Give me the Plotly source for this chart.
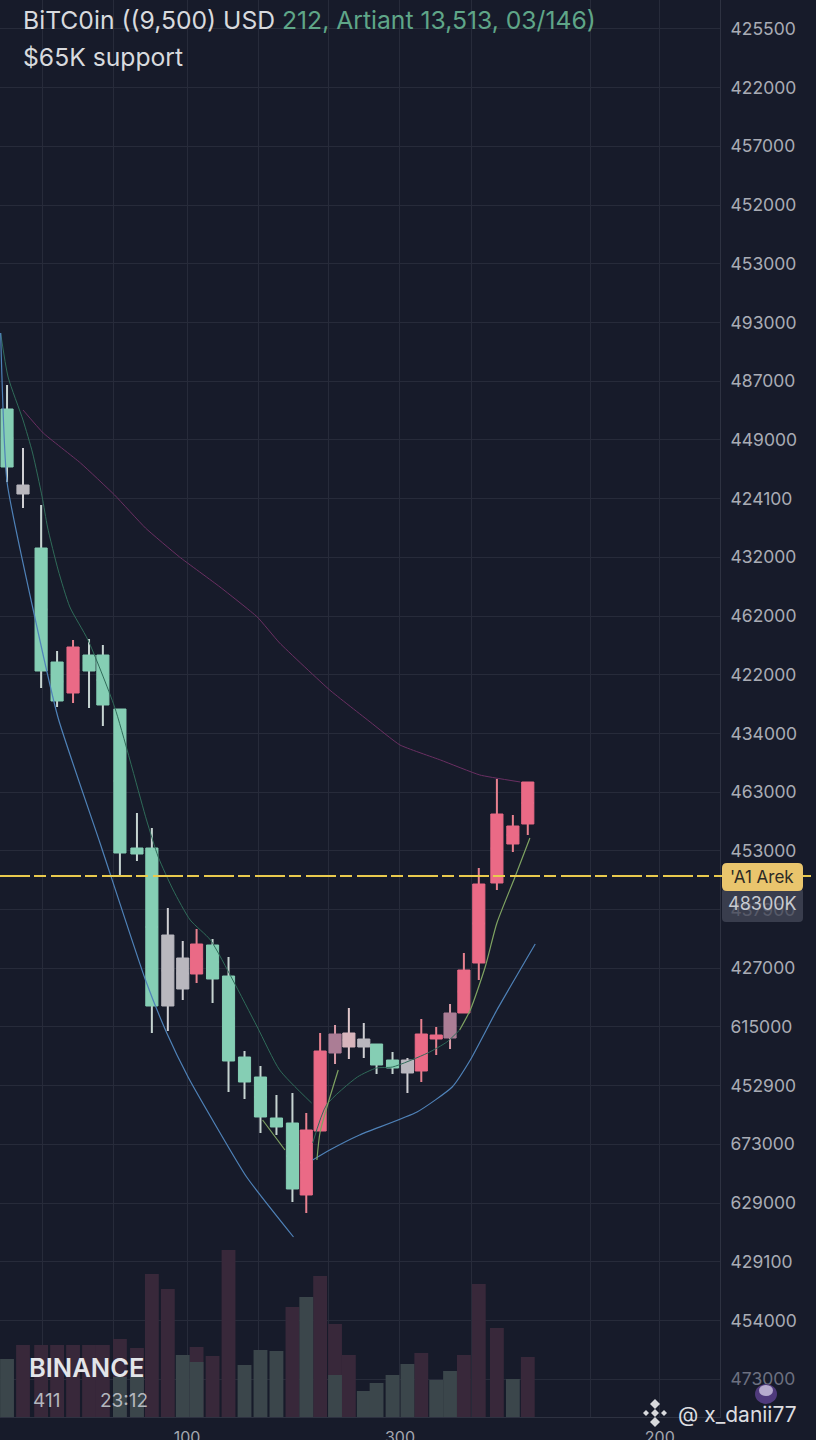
import plotly.graph_objects as go

# Candle data (support line sits at 65000)
bar_x = [-69, -54, -37, -22, -7, 8, 21, 37, 53, 67, 82, 96, 109, 124, 139, 154, 169, 184,
         199, 212, 225, 239, 252, 266, 278, 293, 307, 320, 334, 347, 360, 374, 391, 406, 420]
open_p = [72939, 71647, 70576, 68638, 68111, 68757, 68757, 67839, 65476, 65476, 63997, 63606,
          63334, 63827, 63300, 61923, 61583, 60886, 60801, 59577, 60665, 61991, 62093, 62229,
          62144, 61872, 61872, 61685, 62229, 62246, 62671, 63521, 64881, 65544, 65884]
close_p = [71953, 71494, 68485, 67975, 68893, 68485, 67907, 65391, 65374, 62790, 62790, 63079,
           63844, 63249, 61855, 61498, 60903, 60733, 59679, 60682, 62025, 62314, 62331, 62093,
           61787, 61736, 61651, 62314, 62297, 62671, 63402, 64864, 66054, 65850, 66598]
high_p = [73347, 72276, 71307, 68825, 69012, 69029, 68927, 67839, 66071, 65816, 64456, 63895,
          64099, 63929, 63623, 62025, 61770, 61277, 61311, 60971, 62331, 62467, 62756, 62501,
          62144, 62008, 61906, 62569, 62433, 62824, 63691, 65136, 66649, 66037, 66598]
low_p = [71698, 71256, 68196, 67873, 67941, 67856, 67550, 65017, 65255, 62331, 62365, 62892,
         63181, 62841, 61328, 61209, 60631, 60597, 59458, 59271, 60665, 61804, 61889, 61906,
         61634, 61634, 61311, 61498, 61957, 62059, 62671, 63232, 64762, 65408, 65697]
kinds = ["d", "f", "d", "d", "u", "d", "d", "d", "d", "d", "f", "f", "u", "d", "d", "d", "d", "d",
         "d", "u", "u", "m", "p", "f", "d", "d", "f", "u", "u", "m", "u", "u", "u", "u", "u"]

red_vol = [None, 72, 72, 72, 72, 72, 72, 78, 69, 143, 128, None, 70, 61, 167, None, None, None,
           110, None, 141, 93, 62, None, None, None, None, 64, None, None, 62, 133, 89, None, 60]
gray_vol = [58, None, None, None, None, None, None, 40, 40, None, None, 62, 55, None, None, 52, 67, 66,
            None, 120, None, 42, None, 26, 34, 42, 53, None, 37, 46, None, None, None, 38, None]

# Moving averages
blue_x = [-75, -69, -45, -21, 18, 61, 81, 101, 124, 156, 200, None,
          218, 234, 262, 316, 349, 366, 391, 427]
blue_y = [74231, 71698, 69573, 67686, 65578, 63232, 62331, 61583, 60852, 59883, 58863, None,
          60172, 60342, 60597, 60988, 61413, 61872, 62722, 63844]
dark_x = [-75, -68, -54, -45, -36, -31, -21, -10, 7, 32, 62, 73, 87, 103, 122, 143, 166, 187, 217, None,
          218, 231, 260, 278, 293, 326, 344, 356]
dark_y = [74231, 73483, 72752, 72191, 71443, 70933, 70202, 69573, 69012, 67873, 65952, 65323, 64762,
          64252, 63912, 63232, 62433, 61702, 61141, None,
          60461, 61107, 61583, 61736, 61753, 61991, 62178, 62382]
bright_x = [171, 192, None, 222, 225, 242, None, 356, 366, 380, 391, 408, 422]
bright_y = [60852, 60342, None, 60172, 60648, 61702, None, 62382, 62722, 63453, 64201, 64983, 65646]
purple_x = [-54, -35, 0, 32, 61, 93, 131, 166, 187, 234, 272, 300, 338, 375, 413]
purple_y = [72922, 72531, 72021, 71477, 70916, 70423, 69913, 69403, 68961, 68162, 67618, 67227,
            66972, 66717, 66598]

support_level = 65000

y_tick_vals = [79400 - 998 * i for i in range(24)]
y_tick_text = ["425500", "422000", "457000", "452000", "453000", "493000", "487000", "449000",
               "424100", "432000", "462000", "422000", "434000", "463000", "453000", "437900",
               "427000", "615000", "452900", "673000", "629000", "429100", "454000",
               '<span style="color:#6c7080">473000</span>']
x_tick_vals = [-36, 31, 100, 167, 233, 300, 367, 479, 544]
x_tick_text = ["", "", "100", "", "", "300", "", "", "200"]

BG = "#171b2a"
GRID = "#272b3a"
W, H = 816, 1440
PLOT_H = 1417  # paper coordinates stop at the bottom axis

candle_colors = {
    "u": ("#ea6a86", "#e8818f"),
    "d": ("#85ceb4", "#c6d4d1"),
    "f": ("#b9b7be", "#cfcfd3"),
    "m": ("#ab7d95", "#d99aa6"),
    "p": ("#d8b5bc", "#dfc6ca"),
}


def px_x(x):
    return x / W


def px_y(y):
    return 1 - y / PLOT_H


def rounded_box(x0, y0, x1, y1, r):
    # path in paper coordinates, for the price tags
    return (f"M {px_x(x0 + r)} {px_y(y0)} L {px_x(x1 - r)} {px_y(y0)} "
            f"Q {px_x(x1)} {px_y(y0)} {px_x(x1)} {px_y(y0 + r)} L {px_x(x1)} {px_y(y1 - r)} "
            f"Q {px_x(x1)} {px_y(y1)} {px_x(x1 - r)} {px_y(y1)} L {px_x(x0 + r)} {px_y(y1)} "
            f"Q {px_x(x0)} {px_y(y1)} {px_x(x0)} {px_y(y1 - r)} L {px_x(x0)} {px_y(y0 + r)} "
            f"Q {px_x(x0)} {px_y(y0)} {px_x(x0 + r)} {px_y(y0)} Z")


def diamond(cx, cy, r):
    return (f"M {px_x(cx)} {px_y(cy - r)} L {px_x(cx + r)} {px_y(cy)} "
            f"L {px_x(cx)} {px_y(cy + r)} L {px_x(cx - r)} {px_y(cy)} Z")


fig = go.Figure()

# Volume
fig.add_trace(go.Bar(x=bar_x, y=red_vol, width=13, marker_color="#38283a", marker_line_width=0, yaxis="y2"))
fig.add_trace(go.Bar(x=bar_x, y=gray_vol, width=13, marker_color="#3b464b", marker_line_width=0, yaxis="y2"))

# Moving averages under the candles
fig.add_trace(go.Scatter(x=purple_x, y=purple_y, mode="lines",
                         line=dict(color="#6a2f62", width=1, shape="spline", smoothing=0.4)))
fig.add_trace(go.Scatter(x=dark_x, y=dark_y, mode="lines",
                         line=dict(color="#2f6b59", width=1, shape="spline", smoothing=0.6)))
fig.add_trace(go.Scatter(x=blue_x, y=blue_y, mode="lines",
                         line=dict(color="#4f82b8", width=1.2, shape="spline", smoothing=0.5)))
fig.add_trace(go.Scatter(x=bright_x, y=bright_y, mode="lines",
                         line=dict(color="#7fa362", width=1.2, shape="spline", smoothing=0.6)))

# Candles: one trace for the wicks, one on top for the bodies
for kind, (body_color, wick_color) in candle_colors.items():
    idx = [i for i, k in enumerate(kinds) if k == kind]
    xs = [bar_x[i] for i in idx]
    mids = [(open_p[i] + close_p[i]) / 2 for i in idx]
    wick_style = dict(line=dict(color=wick_color, width=2), fillcolor=wick_color)
    fig.add_trace(go.Candlestick(
        x=xs, open=mids, close=mids,
        high=[high_p[i] for i in idx], low=[low_p[i] for i in idx],
        increasing=wick_style, decreasing=wick_style,
    ))
    body_style = dict(line=dict(color=body_color, width=1), fillcolor=body_color)
    fig.add_trace(go.Candlestick(
        x=xs,
        open=[open_p[i] for i in idx], close=[close_p[i] for i in idx],
        high=[max(open_p[i], close_p[i]) for i in idx], low=[min(open_p[i], close_p[i]) for i in idx],
        increasing=body_style, decreasing=body_style,
    ))

shapes = [
    dict(type="line", xref="paper", yref="y", x0=0, x1=1, y0=support_level, y1=support_level,
         line=dict(color="#e9ca4e", width=2, dash="30px,4px,12px,5px")),
    dict(type="path", xref="paper", yref="paper", path=rounded_box(722, 888, 803, 922, 4),
         fillcolor="rgba(66,70,86,0.8)", line=dict(width=0)),
    dict(type="path", xref="paper", yref="paper", path=rounded_box(722, 863, 803, 891, 5),
         fillcolor="#e9c56d", line=dict(width=0)),
    # avatar ball next to the watermark
    dict(type="circle", xref="paper", yref="paper", x0=px_x(755), x1=px_x(777), y0=px_y(1404), y1=px_y(1384),
         fillcolor="#4f3a7c", line=dict(width=0)),
    dict(type="circle", xref="paper", yref="paper", x0=px_x(759), x1=px_x(773), y0=px_y(1396), y1=px_y(1385),
         fillcolor="#cfc8e2", opacity=0.8, line=dict(width=0)),
    dict(type="path", xref="paper", yref="paper", path=diamond(655, 1404, 5), fillcolor="#d8d9dc", line=dict(width=0)),
    dict(type="path", xref="paper", yref="paper", path=diamond(655, 1422, 5), fillcolor="#d8d9dc", line=dict(width=0)),
    dict(type="path", xref="paper", yref="paper", path=diamond(646, 1413, 3), fillcolor="#d8d9dc", line=dict(width=0)),
    dict(type="path", xref="paper", yref="paper", path=diamond(664, 1413, 3), fillcolor="#d8d9dc", line=dict(width=0)),
    dict(type="path", xref="paper", yref="paper", path=diamond(655, 1413, 4), fillcolor="#d8d9dc", line=dict(width=0)),
]


def label(x, y, text, size, color, anchor="left", weight=None):
    return dict(xref="paper", yref="paper", x=px_x(x), y=px_y(y), text=text, showarrow=False,
                xanchor=anchor, yanchor="middle", align=anchor, borderpad=0,
                font=dict(family="Inter", size=size, color=color, weight=weight))


annotations = [
    label(22, 20, 'BiTC0in ((9,500) USD <span style="color:#5fa688">212, Artiant 13,513, 03/146)</span>', 24.7, "#d8dade"),
    label(22, 57, "$65K support", 24.7, "#d8dade"),
    label(762, 877, "'A1 Arek", 17, "#2c2a25", "center"),
    label(762, 903, "48300K", 18, "#c8cad0", "center"),
    label(28, 1367, "BINANCE", 25.5, "#e3e5e9", weight=600),
    label(32, 1400, "411", 19, "#b4b7be"),
    label(99, 1400, "23:12", 19, "#b4b7be"),
    label(677, 1414, "@ x_danii77", 21, "#dcdde0"),
]

fig.update_layout(
    width=W, height=H,
    margin=dict(l=0, r=0, t=0, b=H - PLOT_H),
    paper_bgcolor=BG, plot_bgcolor=BG,
    showlegend=False, barmode="overlay", boxgap=0.05, boxgroupgap=0,
    shapes=shapes, annotations=annotations,
    font=dict(family="Inter"),
    xaxis=dict(
        domain=[0, 720 / W], range=[-75.6, 600.5], automargin=False,
        tickmode="array", tickvals=x_tick_vals, ticktext=x_tick_text,
        showgrid=True, gridcolor=GRID, gridwidth=1, zeroline=False,
        showline=True, linecolor="#2e3241", linewidth=1,
        tickfont=dict(size=16, color="#a4a7b0"), ticklabelstandoff=6, ticks="",
        rangeslider=dict(visible=False),
    ),
    yaxis=dict(
        side="right", range=[55803, 79892], automargin=False,
        tickmode="array", tickvals=y_tick_vals, ticktext=y_tick_text,
        showgrid=True, gridcolor=GRID, gridwidth=1, zeroline=False,
        showline=True, linecolor="#2e3241", linewidth=1, mirror=False,
        tickfont=dict(size=17.5, color="#a9acb5"), ticklabelstandoff=6, ticks="",
    ),
    yaxis2=dict(overlaying="y", range=[0, 1417], visible=False),
)

# the page's default body margin would push the chart off by 8px
fig.write_html("out.html", config=dict(displayModeBar=False), post_script="document.body.style.margin='0';")
